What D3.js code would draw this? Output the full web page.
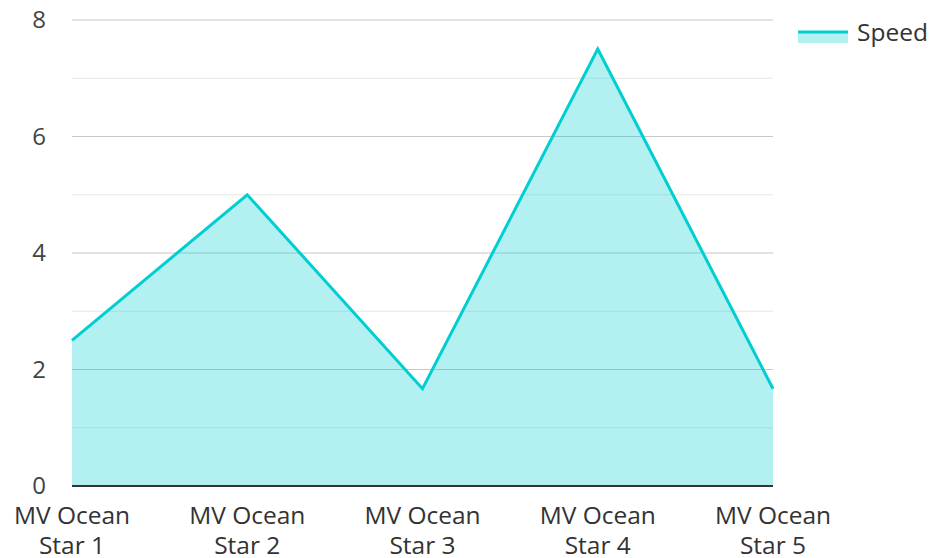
<!DOCTYPE html>
<html>
<head>
<meta charset="utf-8">
<script src="https://cdn.jsdelivr.net/npm/d3@7"></script>
<style>
  html, body { margin: 0; padding: 0; background: #fff; }
  svg text { font-family: "Open Sans", "Noto Sans", sans-serif; }
</style>
</head>
<body>
<svg id="chart" width="930" height="558"></svg>
<script>
// Ship speed per vessel
const categories = ["MV Ocean Star 1", "MV Ocean Star 2", "MV Ocean Star 3", "MV Ocean Star 4", "MV Ocean Star 5"];
const speed = [2.5, 5, 1.67, 7.5, 1.67];
const yTicks = [0, 2, 4, 6, 8];
const yMinorTicks = [1, 3, 5, 7];
const seriesName = "Speed";

const lineColor = "#00ced1";
const fillColor = "rgba(0,206,209,0.3)";

const svg = d3.select("#chart");
const margin = { left: 72, right: 157, top: 20, bottom: 72 };
const width = 930, height = 558;

const x = d3.scalePoint()
  .domain(categories)
  .range([margin.left, width - margin.right]);
const y = d3.scaleLinear()
  .domain([0, 8])
  .range([height - margin.bottom, margin.top]);

// minor gridlines
svg.append("g").selectAll("line").data(yMinorTicks).join("line")
  .attr("x1", margin.left).attr("x2", width - margin.right)
  .attr("y1", d => y(d)).attr("y2", d => y(d))
  .attr("stroke", "#e6e6e6").attr("stroke-width", 1);

// major gridlines
svg.append("g").selectAll("line").data(yTicks.filter(d => d !== 0)).join("line")
  .attr("x1", margin.left).attr("x2", width - margin.right)
  .attr("y1", d => y(d)).attr("y2", d => y(d))
  .attr("stroke", "#c8c8c8").attr("stroke-width", 1);

// area + line
const pts = categories.map((c, i) => [c, speed[i]]);
svg.append("path")
  .datum(pts)
  .attr("fill", fillColor)
  .attr("d", d3.area().x(d => x(d[0])).y0(y(0)).y1(d => y(d[1])));
svg.append("path")
  .datum(pts)
  .attr("fill", "none")
  .attr("stroke", lineColor)
  .attr("stroke-width", 3)
  .attr("stroke-linejoin", "miter")
  .attr("d", d3.line().x(d => x(d[0])).y(d => y(d[1])));

// x axis baseline
svg.append("line")
  .attr("x1", margin.left).attr("x2", width - margin.right)
  .attr("y1", y(0)).attr("y2", y(0))
  .attr("stroke", "#333").attr("stroke-width", 2);

// y tick labels
svg.append("g").selectAll("text").data(yTicks).join("text")
  .attr("x", 46).attr("y", d => y(d))
  .attr("dy", "0.35em")
  .attr("text-anchor", "end")
  .attr("font-size", 24)
  .attr("fill", "#444")
  .text(d => d);

// x tick labels (two lines)
const xl = svg.append("g").selectAll("text").data(categories).join("text")
  .attr("text-anchor", "middle")
  .attr("font-size", 24.5)
  .attr("fill", "#333");
xl.each(function (d) {
  const parts = d.match(/^(.*) (\S+ \S+)$/);
  const t = d3.select(this);
  t.append("tspan").attr("x", x(d)).attr("y", 524).text(parts[1]);
  t.append("tspan").attr("x", x(d)).attr("y", 554).text(parts[2]);
});

// legend
const lg = svg.append("g");
lg.append("rect").attr("x", 798).attr("y", 32).attr("width", 50).attr("height", 11).attr("fill", fillColor);
lg.append("line").attr("x1", 798).attr("x2", 848).attr("y1", 32).attr("y2", 32)
  .attr("stroke", lineColor).attr("stroke-width", 3);
lg.append("text").attr("x", 857).attr("y", 32).attr("dy", "0.35em")
  .attr("font-size", 24.5).attr("fill", "#333").text(seriesName);
</script>
</body>
</html>
